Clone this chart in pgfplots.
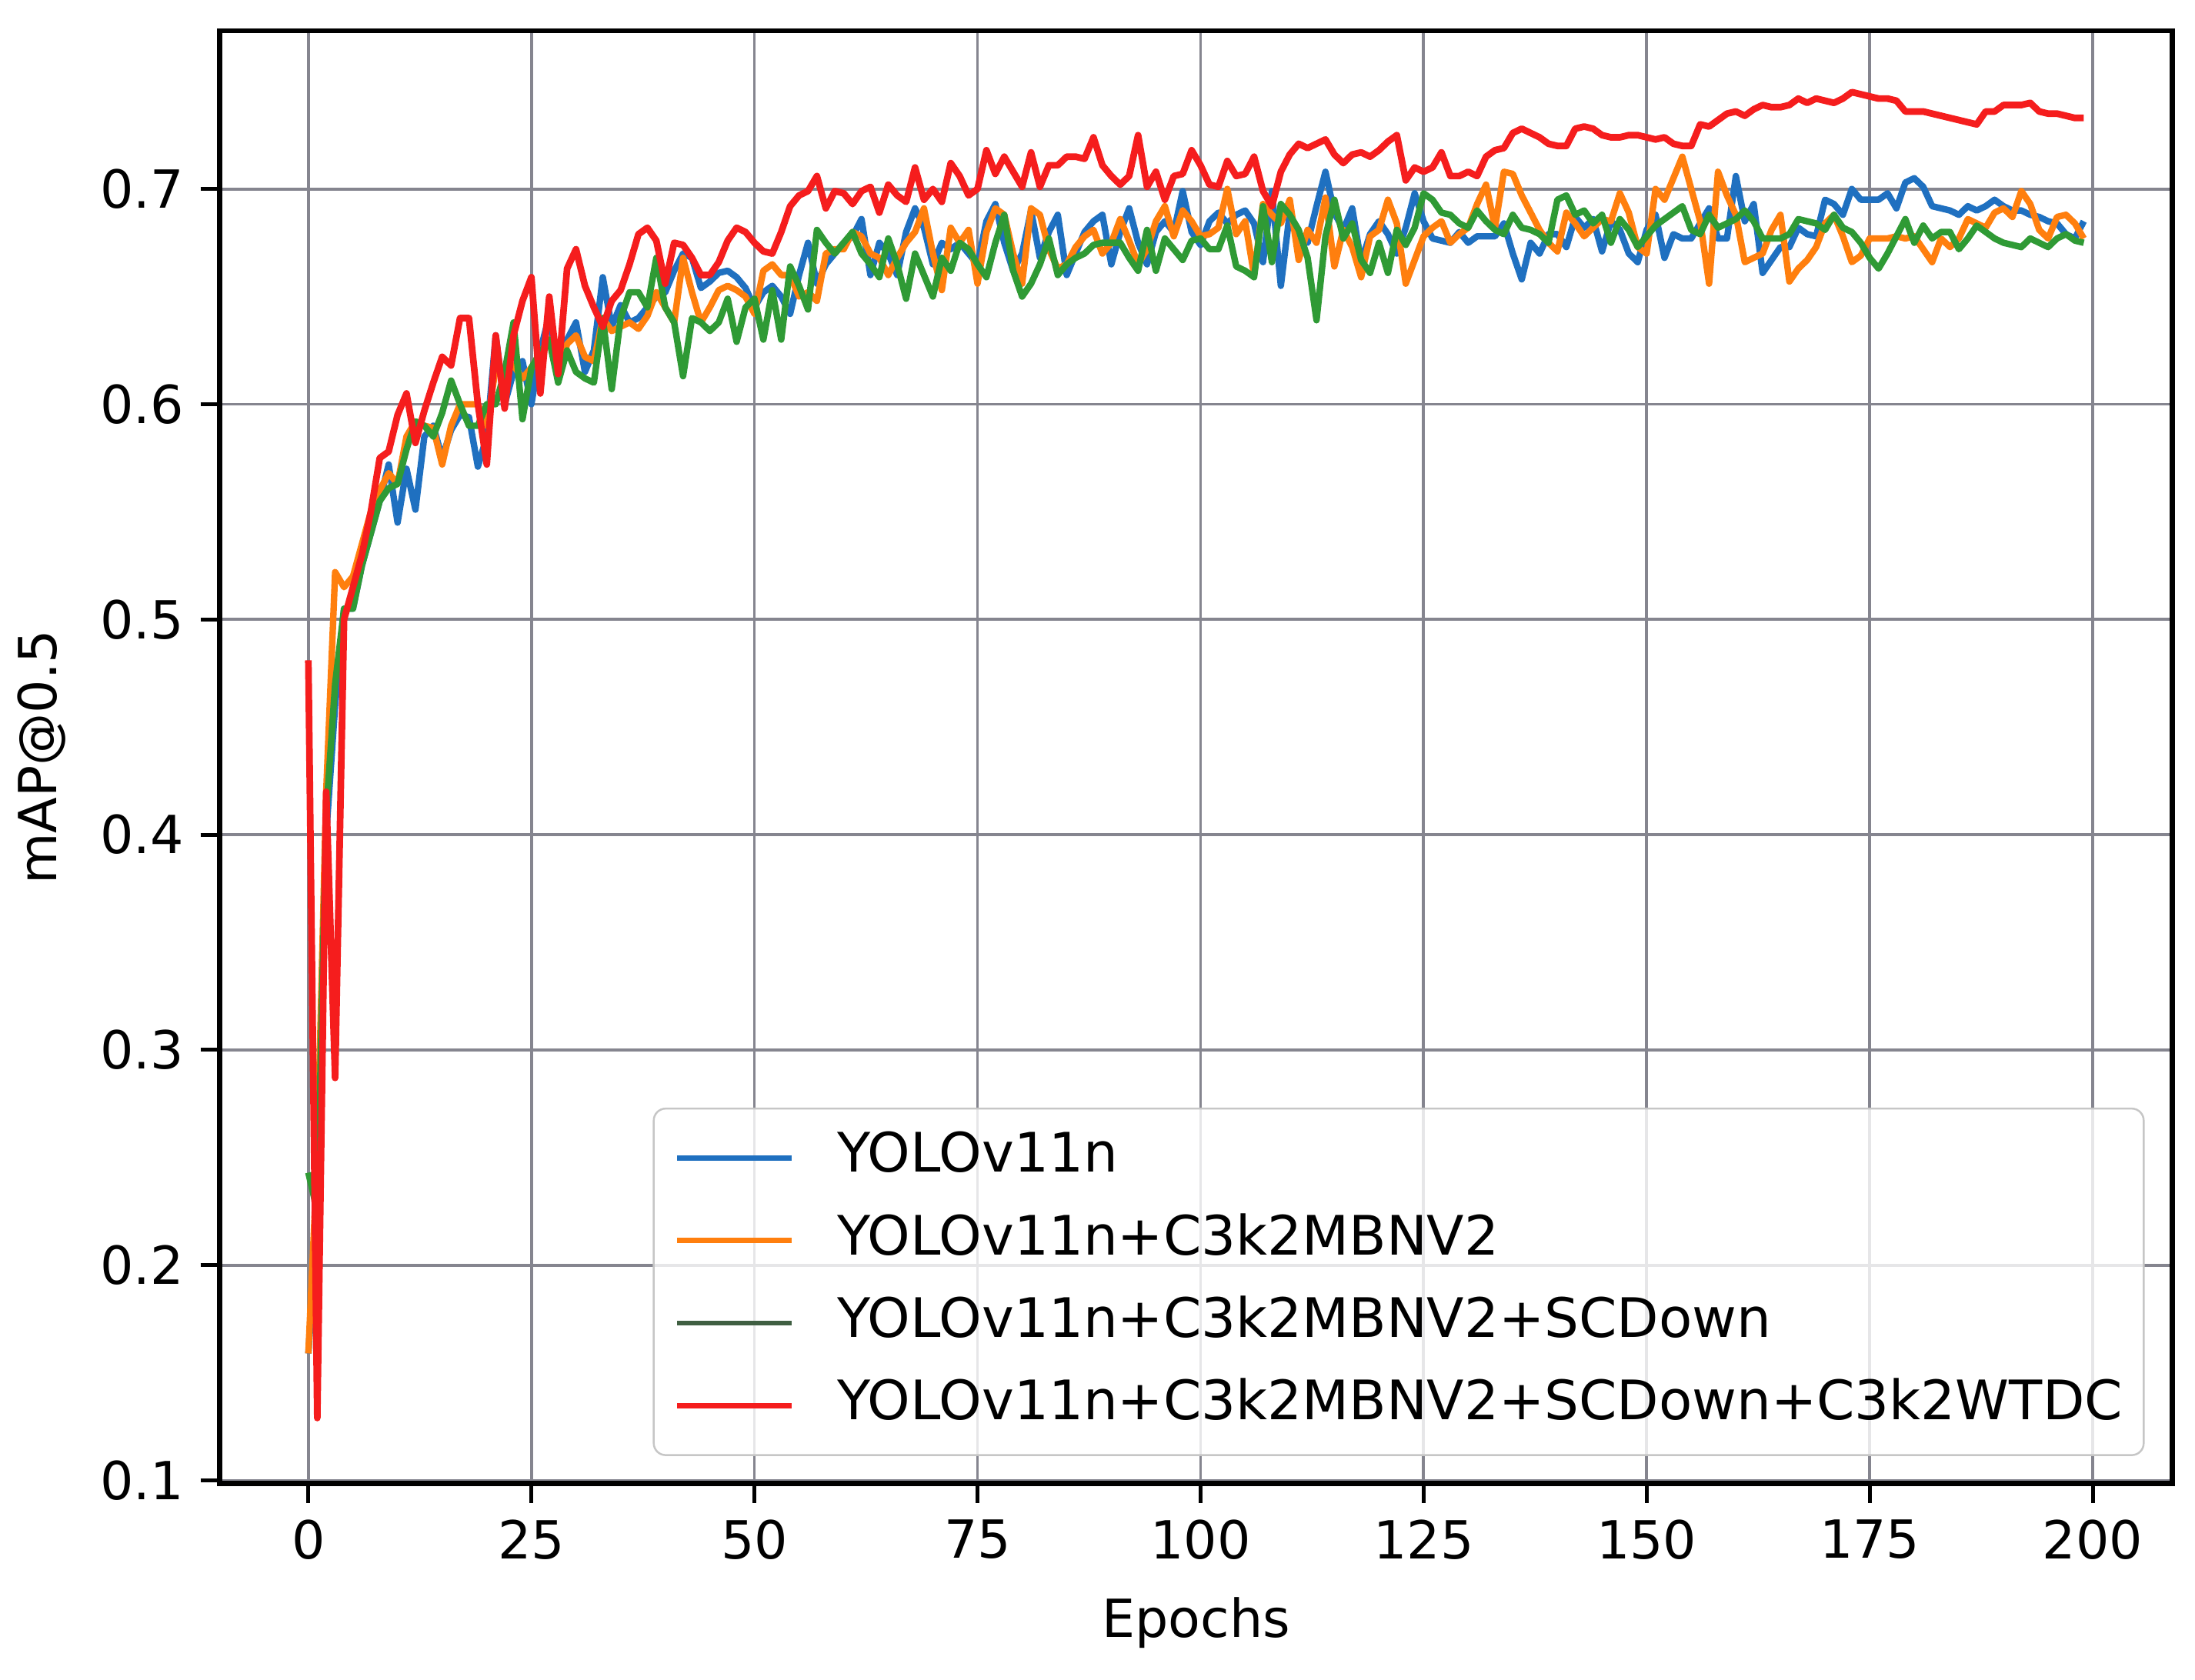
\documentclass[border=0pt]{standalone}
\usepackage{fontspec}
\setmainfont{DejaVu Sans}
\usepackage{pgfplots}
\usepackage{pgfplotstable}
\pgfplotsset{compat=1.18}
\definecolor{cblue}{HTML}{1F70C0}
\definecolor{corange}{HTML}{FF7F0E}
\definecolor{cgreen}{HTML}{2F9A35}
\definecolor{cgreenleg}{HTML}{3F5F42}
\definecolor{cred}{HTML}{F51D1D}
\definecolor{cgrid}{HTML}{85858F}
\pgfplotstableread{
e B O G R
0 0.159 0.159 0.243 0.481
1 0.220 0.250 0.225 0.129
2 0.400 0.420 0.410 0.420
3 0.460 0.522 0.470 0.287
4 0.505 0.515 0.505 0.500
5 0.505 0.520 0.505 0.515
6 0.525 0.535 0.525 0.530
7 0.540 0.550 0.540 0.550
8 0.555 0.560 0.555 0.575
9 0.572 0.568 0.561 0.578
10 0.545 0.563 0.563 0.595
11 0.570 0.585 0.579 0.605
12 0.551 0.592 0.592 0.582
13 0.585 0.590 0.590 0.597
14 0.590 0.589 0.585 0.610
15 0.575 0.572 0.596 0.622
16 0.588 0.590 0.611 0.618
17 0.595 0.600 0.600 0.640
18 0.594 0.600 0.590 0.640
19 0.571 0.600 0.590 0.600
20 0.585 0.590 0.600 0.572
21 0.632 0.617 0.600 0.632
22 0.600 0.615 0.615 0.598
23 0.615 0.618 0.638 0.632
24 0.620 0.612 0.593 0.648
25 0.600 0.617 0.617 0.659
26 0.625 0.624 0.624 0.605
27 0.641 0.630 0.630 0.650
28 0.615 0.612 0.610 0.614
29 0.630 0.628 0.625 0.663
30 0.638 0.632 0.615 0.672
31 0.615 0.622 0.612 0.655
32 0.625 0.620 0.610 0.645
33 0.659 0.640 0.640 0.636
34 0.636 0.634 0.607 0.648
35 0.646 0.636 0.640 0.653
36 0.638 0.638 0.652 0.665
37 0.640 0.635 0.652 0.679
38 0.645 0.641 0.645 0.682
39 0.650 0.652 0.668 0.676
40 0.652 0.645 0.645 0.656
41 0.662 0.638 0.638 0.675
42 0.670 0.668 0.613 0.674
43 0.668 0.652 0.640 0.668
44 0.654 0.638 0.638 0.660
45 0.657 0.645 0.634 0.660
46 0.661 0.653 0.638 0.666
47 0.662 0.655 0.649 0.676
48 0.659 0.653 0.629 0.682
49 0.654 0.650 0.645 0.680
50 0.645 0.642 0.649 0.675
51 0.652 0.662 0.630 0.671
52 0.655 0.665 0.653 0.670
53 0.650 0.660 0.630 0.680
54 0.642 0.660 0.664 0.692
55 0.660 0.650 0.655 0.697
56 0.675 0.652 0.644 0.699
57 0.656 0.648 0.681 0.706
58 0.665 0.670 0.675 0.691
59 0.670 0.672 0.670 0.699
60 0.675 0.672 0.675 0.698
61 0.678 0.680 0.680 0.693
62 0.686 0.678 0.670 0.699
63 0.660 0.670 0.665 0.701
64 0.675 0.668 0.659 0.689
65 0.670 0.660 0.677 0.702
66 0.660 0.668 0.665 0.697
67 0.680 0.675 0.649 0.694
68 0.691 0.680 0.670 0.710
69 0.682 0.691 0.660 0.695
70 0.665 0.670 0.650 0.700
71 0.675 0.653 0.668 0.694
72 0.672 0.682 0.662 0.712
73 0.675 0.675 0.675 0.706
74 0.670 0.681 0.672 0.697
75 0.665 0.656 0.665 0.700
76 0.685 0.680 0.659 0.718
77 0.693 0.691 0.675 0.707
78 0.675 0.688 0.688 0.715
79 0.662 0.670 0.662 0.708
80 0.670 0.656 0.650 0.701
81 0.690 0.691 0.656 0.717
82 0.668 0.688 0.665 0.701
83 0.680 0.672 0.677 0.711
84 0.688 0.663 0.660 0.711
85 0.660 0.665 0.665 0.715
86 0.670 0.673 0.668 0.715
87 0.680 0.678 0.670 0.714
88 0.685 0.681 0.674 0.724
89 0.688 0.670 0.675 0.711
90 0.665 0.675 0.675 0.706
91 0.680 0.686 0.675 0.702
92 0.691 0.676 0.668 0.706
93 0.675 0.665 0.662 0.725
94 0.665 0.672 0.681 0.701
95 0.680 0.685 0.662 0.708
96 0.685 0.692 0.677 0.695
97 0.680 0.678 0.672 0.706
98 0.699 0.690 0.667 0.707
99 0.680 0.685 0.676 0.718
100 0.674 0.678 0.677 0.711
101 0.685 0.679 0.672 0.702
102 0.689 0.682 0.672 0.701
103 0.684 0.700 0.683 0.713
104 0.688 0.679 0.664 0.706
105 0.690 0.685 0.662 0.707
106 0.684 0.660 0.659 0.715
107 0.666 0.693 0.692 0.699
108 0.699 0.688 0.666 0.692
109 0.655 0.684 0.693 0.708
110 0.689 0.695 0.688 0.716
111 0.678 0.667 0.681 0.721
112 0.675 0.681 0.668 0.719
113 0.692 0.675 0.639 0.721
114 0.708 0.696 0.678 0.723
115 0.689 0.664 0.695 0.716
116 0.681 0.681 0.677 0.712
117 0.691 0.673 0.684 0.716
118 0.666 0.659 0.667 0.717
119 0.679 0.678 0.661 0.715
120 0.685 0.681 0.675 0.718
121 0.679 0.695 0.661 0.722
122 0.670 0.684 0.681 0.725
123 0.682 0.656 0.674 0.704
124 0.698 0.667 0.682 0.710
125 0.685 0.678 0.698 0.708
126 0.677 0.682 0.695 0.710
127 0.676 0.685 0.689 0.717
128 0.675 0.675 0.688 0.706
129 0.680 0.679 0.684 0.706
130 0.675 0.682 0.682 0.708
131 0.678 0.693 0.690 0.706
132 0.678 0.702 0.685 0.715
133 0.678 0.682 0.681 0.718
134 0.684 0.708 0.679 0.719
135 0.670 0.707 0.688 0.726
136 0.658 0.697 0.682 0.728
137 0.675 0.689 0.681 0.726
138 0.670 0.681 0.679 0.724
139 0.679 0.675 0.675 0.721
140 0.679 0.671 0.695 0.720
141 0.673 0.689 0.697 0.720
142 0.687 0.684 0.688 0.728
143 0.682 0.678 0.690 0.729
144 0.686 0.682 0.684 0.728
145 0.671 0.686 0.688 0.725
146 0.685 0.685 0.675 0.724
147 0.681 0.698 0.686 0.724
148 0.670 0.689 0.681 0.725
149 0.666 0.673 0.673 0.725
150 0.681 0.670 0.678 0.724
151 0.688 0.700 0.683 0.723
152 0.668 0.695 0.686 0.724
153 0.679 0.705 0.689 0.721
154 0.677 0.715 0.692 0.720
155 0.677 0.700 0.681 0.720
156 0.684 0.685 0.679 0.730
157 0.691 0.656 0.688 0.729
158 0.677 0.708 0.682 0.732
159 0.677 0.697 0.684 0.735
160 0.706 0.688 0.686 0.736
161 0.685 0.666 0.690 0.734
162 0.693 0.668 0.685 0.737
163 0.661 0.670 0.677 0.739
164 0.667 0.681 0.677 0.738
165 0.673 0.688 0.677 0.738
166 0.673 0.657 0.679 0.739
167 0.682 0.663 0.686 0.742
168 0.679 0.667 0.685 0.740
169 0.678 0.673 0.684 0.742
170 0.695 0.684 0.681 0.741
171 0.693 0.688 0.688 0.740
172 0.688 0.678 0.682 0.742
173 0.700 0.666 0.680 0.745
174 0.695 0.669 0.675 0.744
175 0.695 0.677 0.668 0.743
176 0.695 0.677 0.663 0.742
177 0.698 0.677 0.670 0.742
178 0.691 0.678 0.678 0.741
179 0.703 0.677 0.686 0.736
180 0.705 0.678 0.675 0.736
181 0.701 0.672 0.683 0.736
182 0.692 0.666 0.677 0.735
183 0.691 0.677 0.680 0.734
184 0.690 0.673 0.680 0.733
185 0.688 0.677 0.672 0.732
186 0.692 0.686 0.677 0.731
187 0.690 0.684 0.683 0.730
188 0.692 0.682 0.680 0.736
189 0.695 0.689 0.677 0.736
190 0.692 0.691 0.675 0.739
191 0.690 0.687 0.674 0.739
192 0.690 0.699 0.673 0.739
193 0.688 0.693 0.677 0.740
194 0.687 0.681 0.675 0.736
195 0.685 0.677 0.673 0.735
196 0.684 0.687 0.677 0.735
197 0.679 0.688 0.679 0.734
198 0.677 0.684 0.676 0.733
199 0.685 0.677 0.675 0.733
}\datatable
\begin{document}
\begin{tikzpicture}
\begin{axis}[
  scale only axis,
  width=409.1pt, height=304.4pt,
  xmin=-9.95, xmax=208.95,
  ymin=0.0985, ymax=0.7735,
  xtick={0,25,50,75,100,125,150,175,200},
  ytick={0.1,0.2,0.3,0.4,0.5,0.6,0.7},
  xtick pos=bottom, ytick pos=left,
  tick align=outside,
  major tick length=4pt,
  major tick style={black, line width=0.8pt},
  axis line style={black, line width=1.1pt},
  grid=major,
  major grid style={cgrid, line width=0.6pt},
  /pgf/number format/assume math mode=true,
  yticklabel style={/pgf/number format/fixed, /pgf/number format/fixed zerofill, /pgf/number format/precision=1},
  tick label style={font=\fontsize{11}{13}\selectfont},
  xlabel={Epochs}, ylabel={mAP@0.5},
  label style={font=\fontsize{11}{13}\selectfont},
  xlabel style={at={(axis description cs:0.5,-0.096)}, anchor=center},
  ylabel style={at={(axis description cs:-0.091,0.5)}, anchor=center, rotate=0},
  legend cell align=left,
  legend image code/.code={\draw[#1] (0pt,0pt) -- (24pt,0pt);},
  legend style={at={(axis description cs:0.9857,0.019)}, anchor=south east,
    draw=gray!45, rounded corners=2.5pt, fill=white, fill opacity=0.8, text opacity=1,
    inner xsep=4.4pt, inner ysep=5pt,
    font=\fontsize{11.4}{13}\selectfont,
    nodes={inner sep=0pt, text height=8.3pt, text depth=2.4pt},
    row sep=6.6pt,
    /tikz/every odd column/.append style={column sep=9pt}},
]
\addlegendimage{cblue, line width=1.1pt}
\addlegendentry{YOLOv11n}
\addlegendimage{corange, line width=1.1pt}
\addlegendentry{YOLOv11n+C3k2MBNV2}
\addlegendimage{cgreenleg, line width=1.1pt}
\addlegendentry{YOLOv11n+C3k2MBNV2+SCDown}
\addlegendimage{cred, line width=1.1pt}
\addlegendentry{YOLOv11n+C3k2MBNV2+SCDown+C3k2WTDC}
\addplot[forget plot, cblue, line width=1.35pt, line join=round] table[x=e, y=B] {\datatable};
\addplot[forget plot, corange, line width=1.35pt, line join=round] table[x=e, y=O] {\datatable};
\addplot[forget plot, cgreen, line width=1.35pt, line join=round] table[x=e, y=G] {\datatable};
\addplot[forget plot, cred, line width=1.4pt, line join=round] table[x=e, y=R] {\datatable};
\end{axis}
\pgfresetboundingbox
\path[use as bounding box] ([xshift=-46pt,yshift=-41.1pt]current axis.south west) rectangle ([xshift=4.7pt,yshift=6.45pt]current axis.north east);
\end{tikzpicture}
\end{document}
